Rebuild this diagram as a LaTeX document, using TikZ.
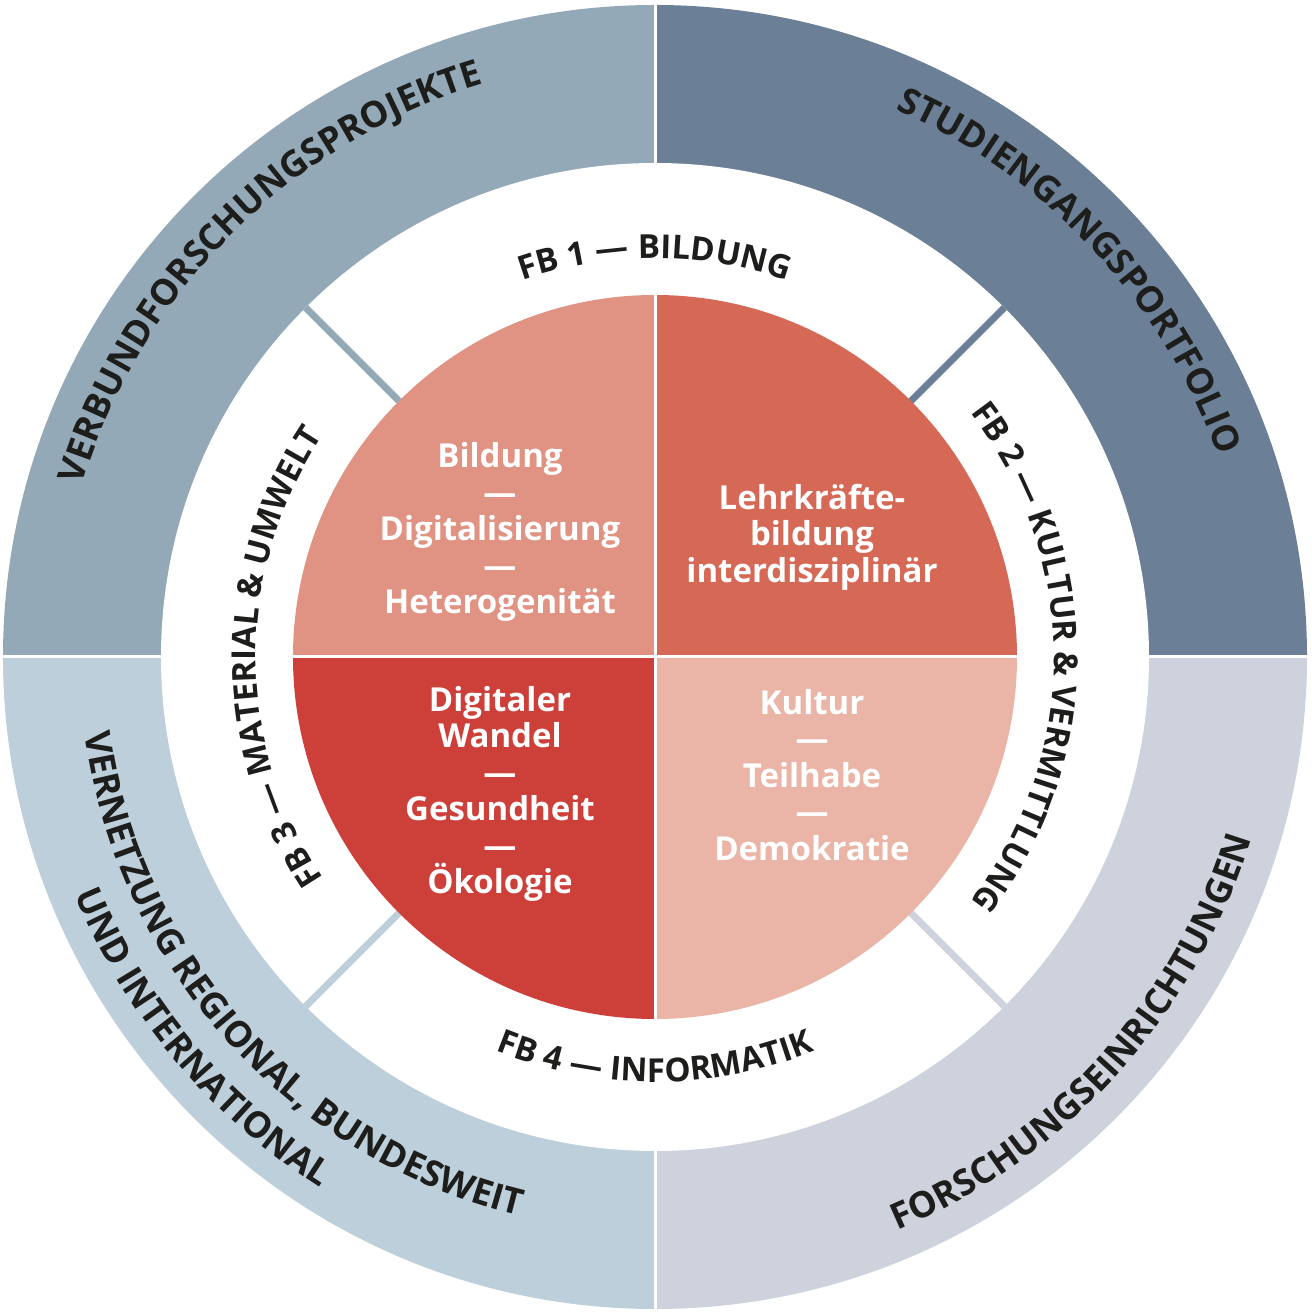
\documentclass[tikz,border=0pt]{standalone}
\usepackage{fontspec}
\setmainfont{Open Sans}
\usetikzlibrary{decorations.text}
\definecolor{oTL}{HTML}{93A9B7}
\definecolor{oTR}{HTML}{6B8096}
\definecolor{oBL}{HTML}{BCCFDB}
\definecolor{oBR}{HTML}{CDD2DC}
\definecolor{iTL}{HTML}{E09382}
\definecolor{iTR}{HTML}{D66856}
\definecolor{iBL}{HTML}{CD3F39}
\definecolor{iBR}{HTML}{EAB5A7}
\definecolor{ink}{HTML}{1D1D1B}
\newcommand{\ofont}{\fontsize{36}{40}\bfseries\color{ink}}
\newcommand{\rfont}{\fontsize{33}{36}\bfseries\color{ink}}
\begin{document}
\begin{tikzpicture}[x=1pt,y=1pt,
  ctext/.style={text=white,font=\fontsize{33}{36.5}\selectfont\bfseries,align=center},
  arctext/.style={decorate,decoration={text along path,text align={align=center},text={#1}}},
  diag/.style={line width=7pt}]
\useasboundingbox (-655,-656) rectangle (656,657);
% outer quadrants
\fill[oTR] (0,0) -- (0:652) arc[start angle=0,end angle=90,radius=652] -- cycle;
\fill[oTL] (0,0) -- (90:652) arc[start angle=90,end angle=180,radius=652] -- cycle;
\fill[oBL] (0,0) -- (180:652) arc[start angle=180,end angle=270,radius=652] -- cycle;
\fill[oBR] (0,0) -- (270:652) arc[start angle=270,end angle=360,radius=652] -- cycle;
\fill[white] (0,0) circle[radius=494];
% diagonal separators
\coordinate (d1a) at (45:360); \coordinate (d1b) at (45:494);
\coordinate (d2a) at (135:360); \coordinate (d2b) at (135:494);
\coordinate (d3a) at (225:360); \coordinate (d3b) at (225:494);
\coordinate (d4a) at (315:360); \coordinate (d4b) at (315:494);
\draw[diag,oTR] (d1a) -- (d1b);
\draw[diag,oTL] (d2a) -- (d2b);
\draw[diag,oBL] (d3a) -- (d3b);
\draw[diag,oBR] (d4a) -- (d4b);
% inner quadrants
\fill[iTR] (0,0) -- (0:362) arc[start angle=0,end angle=90,radius=362] -- cycle;
\fill[iTL] (0,0) -- (90:362) arc[start angle=90,end angle=180,radius=362] -- cycle;
\fill[iBL] (0,0) -- (180:362) arc[start angle=180,end angle=270,radius=362] -- cycle;
\fill[iBR] (0,0) -- (270:362) arc[start angle=270,end angle=360,radius=362] -- cycle;
% white cross
\coordinate (t) at (0,657); \coordinate (b) at (0,-657);
\coordinate (l) at (-656,0); \coordinate (r) at (656,0);
\draw[white,line width=3pt] (t) -- (b);
\draw[white,line width=3pt] (l) -- (r);
% outer texts
\path[arctext={|\ofont|VERBUNDFORSCHUNGSPROJEKTE}] (175:598) arc[start angle=175,end angle=95,radius=598];
\path[arctext={|\ofont|STUDIENGANGSPORTFOLIO}] (83:598) arc[start angle=83,end angle=3,radius=598];
\path[arctext={|\ofont|FORSCHUNGSEINRICHTUNGEN}] (-82:623) arc[start angle=-82,end angle=-2,radius=623];
\path[arctext={|\ofont|VERNETZUNG REGIONAL, BUNDESWEIT}] (180:575) arc[start angle=180,end angle=264,radius=575];
\path[arctext={|\ofont|UND INTERNATIONAL}] (180:627) arc[start angle=180,end angle=260,radius=627];
% ring texts
\path[arctext={|\rfont|FB 1 — BILDUNG}] (130:399) arc[start angle=130,end angle=50,radius=399];
\path[arctext={|\rfont|FB 2 — KULTUR {\&} VERMITTLUNG}] (47:399) arc[start angle=47,end angle=-47,radius=399];
\path[arctext={|\rfont|FB 3 — MATERIAL {\&} UMWELT}] (227:399) arc[start angle=227,end angle=133,radius=399];
\path[arctext={|\rfont|FB 4 — INFORMATIK}] (230:425) arc[start angle=230,end angle=310,radius=425];
% center texts
\node[ctext] (q1) at (-155,125) {Bildung\\—\\Digitalisierung\\—\\Heterogenität};
\node[ctext] (q2) at (157,120) {Lehrkräfte-\\bildung\\interdisziplinär};
\node[ctext] (q3) at (-155,-137) {Digitaler\\Wandel\\—\\Gesundheit\\—\\Ökologie};
\node[ctext] (q4) at (157,-118) {Kultur\\—\\Teilhabe\\—\\Demokratie};
\end{tikzpicture}
\end{document}
